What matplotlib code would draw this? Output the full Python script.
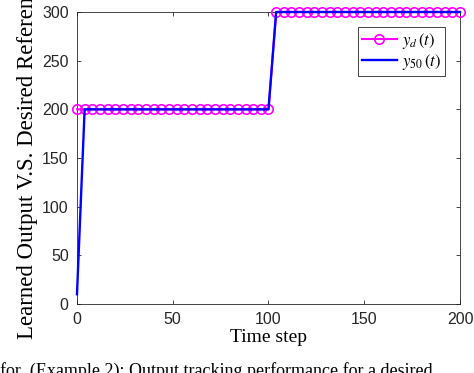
import numpy as np
import matplotlib
matplotlib.use("Agg")
import matplotlib.pyplot as plt

# sample times (every 4th step)
t = np.arange(0, 201, 4)
# desired reference y_d(t)
y_d = [200] * 26 + [300] * 25
# learned output y_50(t)
y_50 = [10] + [200] * 25 + [300] * 25

plt.rcParams['mathtext.fontset'] = 'stix'
plt.rcParams['font.family'] = 'Liberation Sans'

fig = plt.figure(figsize=(4.74, 3.73), dpi=100)
ax = fig.add_axes([0.1624, 0.185, 0.8081, 0.7828])

ax.plot(t, y_d, color=(1, 0, 1), lw=1.5, marker='o', ms=6.8, mfc='none',
        mew=1.2, label=r'$y_d\,(t)$', clip_on=False, zorder=3)
ax.plot(t, y_50, color=(0, 0, 1), lw=1.7, label=r'$y_{50}\,(t)$',
        clip_on=False, zorder=4)

ax.set_xlim(0, 200)
ax.set_ylim(0, 300)
ax.set_xticks([0, 50, 100, 150, 200])
ax.set_yticks([0, 50, 100, 150, 200, 250, 300])
ax.tick_params(direction='in', top=True, right=True, labelsize=11.5,
               length=3, width=0.6, colors='#262626', pad=6)
for s in ax.spines.values():
    s.set_color('#262626')
    s.set_linewidth(0.6)

ax.set_xlabel('Time step', family='Liberation Serif', fontsize=14, labelpad=1)
ax.set_ylabel('Learned Output V.S. Desired Reference', family='Liberation Serif',
              fontsize=16.5, labelpad=3)

leg = ax.legend(loc='upper right', fontsize=12, handlelength=2.1,
                fancybox=False, framealpha=1, edgecolor='#262626',
                borderpad=0.25, labelspacing=0.05, handletextpad=0.3,
                borderaxespad=0.9)
leg.get_frame().set_linewidth(0.6)

# caption of the source figure, mostly cut off by the image edge
fig.text(0.0, 0.030, 'for  (Example 2): Output tracking performance for a desired',
         family='Liberation Serif', fontsize=13, va='top', ha='left')

fig.savefig('out.png', dpi=100)
